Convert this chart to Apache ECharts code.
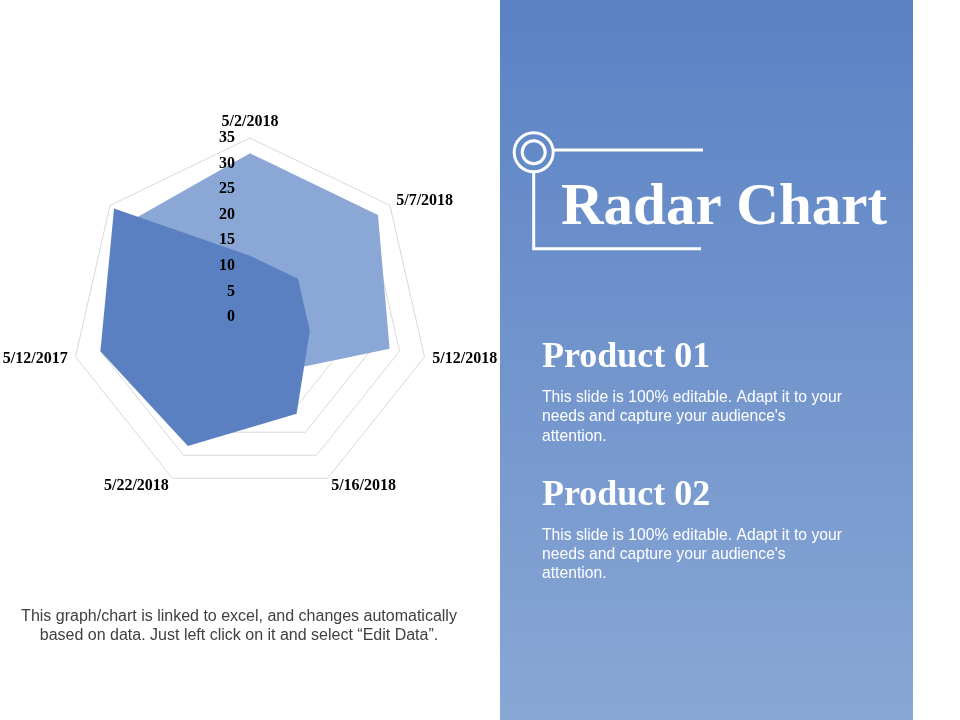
<!DOCTYPE html>
<html><head><meta charset="utf-8">
<script src="https://cdn.jsdelivr.net/npm/echarts@6/dist/echarts.min.js"></script>
<style>html,body{margin:0;padding:0;background:#fff}#c{width:960px;height:720px}</style>
</head><body><div id="c"></div>
<script>
// Categories in Excel (clockwise from top) order
const categories = ['5/2/2018', '5/7/2018', '5/12/2018', '5/16/2018', '5/22/2018', '5/12/2017', ''];
const product01 = [32, 32, 28, 12, 25, 25, 30];
const product02 = [12, 12, 12, 21, 28, 30, 34];
const seriesNames = ['Product 01', 'Product 02'];
const axisMin = 0;
const axisMax = 35;
const tickLabels = ['0', '5', '10', '15', '20', '25', '30', '35'];
const titleText = 'Radar Chart';
const bodyText = "This slide is 100% editable. Adapt it to your\nneeds and capture your audience's\nattention.";
const footText = 'This graph/chart is linked to excel, and changes automatically\nbased on data. Just left click on it and select \u201cEdit Data\u201d.';

// ECharts lays radar indicators counter-clockwise; reorder so the picture runs clockwise
const ccw = [0].concat(categories.map((_, i) => i).slice(1).reverse());
const reorder = arr => ccw.map(i => arr[i]);

const chart = echarts.init(document.getElementById('c'), null, {renderer: 'canvas'});
const serif = '"Liberation Serif", "Times New Roman", serif';
const sans = '"Liberation Sans", Arial, sans-serif';

const baseIndicators = reorder(categories).map(name => ({name: name, min: axisMin, max: axisMax}));
const labelIndicators = baseIndicators.map((ind, i) => {
  const o = Object.assign({}, ind);
  if (i === 0) {
    o.axisLabel = {
      show: true, margin: 15, color: '#000',
      fontFamily: serif, fontWeight: 'bold', fontSize: 16,
      formatter: v => tickLabels[Math.round((v - axisMin) / 5)]
    };
  }
  return o;
});

const radarCommon = {
  center: [250, 317],
  radius: 179,
  startAngle: 90,
  shape: 'polygon',
  splitNumber: 7,
  nameGap: 8,
  axisLine: {show: false},
  axisTick: {show: false},
  splitArea: {show: false}
};

chart.setOption({
  animation: false,
  backgroundColor: '#fff',
  radar: [
    Object.assign({}, radarCommon, {
      z: 1,
      indicator: baseIndicators,
      axisName: {color: '#000', fontFamily: serif, fontWeight: 'bold', fontSize: 16},
      axisLabel: {show: false},
      splitLine: {lineStyle: {color: '#d9d9d9', width: 1}}
    }),
    Object.assign({}, radarCommon, {
      z: 5,
      indicator: labelIndicators,
      axisName: {show: false},
      axisLabel: {show: false},
      splitLine: {show: false}
    })
  ],
  series: [
    {
      type: 'radar', radarIndex: 0, z: 2, silent: true, symbol: 'none',
      lineStyle: {width: 0},
      areaStyle: {color: '#8aa7d6', opacity: 1},
      data: [{name: seriesNames[0], value: reorder(product01)}]
    },
    {
      type: 'radar', radarIndex: 0, z: 2, silent: true, symbol: 'none',
      lineStyle: {width: 0},
      areaStyle: {color: '#5a80c2', opacity: 1},
      data: [{name: seriesNames[1], value: reorder(product02)}]
    }
  ],
  graphic: [
    {type: 'rect', z: -10, shape: {x: 500, y: 0, width: 413, height: 720},
     style: {fill: new echarts.graphic.LinearGradient(0, 0, 0, 1, [
       {offset: 0, color: '#5a82c4'}, {offset: 1, color: '#89a7d5'}])}},
    {type: 'circle', shape: {cx: 533.7, cy: 152.3, r: 19.5}, style: {fill: 'none', stroke: '#fff', lineWidth: 3}},
    {type: 'circle', shape: {cx: 533.7, cy: 152.3, r: 11.5}, style: {fill: 'none', stroke: '#fff', lineWidth: 3}},
    {type: 'line', shape: {x1: 553, y1: 150, x2: 703, y2: 150}, style: {stroke: '#fff', lineWidth: 3}},
    {type: 'polyline', shape: {points: [[533.7, 171.5], [533.7, 248.7], [701, 248.7]]}, style: {fill: 'none', stroke: '#fff', lineWidth: 3}},
    {type: 'text', x: 561, y: 209, style: {text: titleText, font: 'bold 59px ' + serif, fill: '#fff', align: 'left', verticalAlign: 'middle'}},
    {type: 'text', x: 542, y: 358, style: {text: seriesNames[0], font: 'bold 36px ' + serif, fill: '#fff', align: 'left', verticalAlign: 'middle'}},
    {type: 'text', x: 542, y: 388, style: {text: bodyText, font: '15.7px ' + sans, lineHeight: 19.4, fill: '#fff', align: 'left', verticalAlign: 'top'}},
    {type: 'text', x: 542, y: 496, style: {text: seriesNames[1], font: 'bold 36px ' + serif, fill: '#fff', align: 'left', verticalAlign: 'middle'}},
    {type: 'text', x: 542, y: 525.5, style: {text: bodyText, font: '15.7px ' + sans, lineHeight: 19.4, fill: '#fff', align: 'left', verticalAlign: 'top'}},
    {type: 'text', x: 239, y: 607.5, style: {text: footText, font: '16px ' + sans, lineHeight: 19, fill: '#404040', align: 'center', verticalAlign: 'top'}}
  ]
});
</script></body></html>
